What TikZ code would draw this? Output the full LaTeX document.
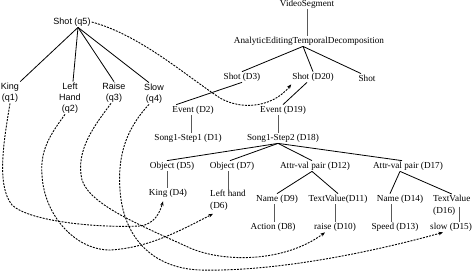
\documentclass[tikz,border=0pt]{standalone}
\usepackage{fontspec}
\setmainfont{Liberation Serif}
\setsansfont{Liberation Sans}
\usepackage{tikz}
\usetikzlibrary{arrows.meta}

\begin{document}
\begin{tikzpicture}[x=1pt, y=-1pt,
  qnode/.style={font=\sffamily\fontsize{9}{11}\selectfont, align=center, inner sep=1pt},
  dnode/.style={font=\fontsize{9.2}{12}\selectfont, inner sep=1pt},
  branch/.style={line width=0.8pt, black},
  vline/.style={line width=0.6pt, black!65},
  link/.style={line width=0.9pt, dash pattern=on 2pt off 1.2pt, -{Stealth[length=4.5pt,width=3.5pt]}}]
  \useasboundingbox (0,0) rectangle (474,271);
  % Query tree
  \node[qnode] (q5) at (72,22) {Shot (q5)};
  \node[qnode] (q1) at (10,92.5) {King\\(q1)};
  \node[qnode] (q2) at (70,98) {Left\\Hand\\(q2)};
  \node[qnode] (q3) at (114,92.5) {Raise\\(q3)};
  \node[qnode] (q4) at (154,93.5) {Slow\\(q4)};
  \draw[branch] ([xshift=6pt]q5.south) -- (q1.north east);
  \draw[branch] ([xshift=6pt]q5.south) -- ([xshift=3pt]q2.north);
  \draw[branch] ([xshift=6pt]q5.south) -- (q3.north);
  \draw[branch] ([xshift=6pt]q5.south) -- ([xshift=-5pt]q4.north);
  % Video description tree
  \node[dnode] (vs) at (307,4) {VideoSegment};
  \node[dnode] (aetd) at (309,41) {AnalyticEditingTemporalDecomposition};
  \node[dnode] (d3) at (242,77) {Shot (D3)};
  \node[dnode] (d20) at (313,77) {Shot (D20)};
  \node[dnode] (shot) at (367,78) {Shot};
  \node[dnode] (d2) at (193,110) {Event (D2)};
  \node[dnode] (d19) at (283,110) {Event (D19)};
  \node[dnode] (d1) at (188,138) {Song1-Step1 (D1)};
  \node[dnode] (d18) at (283,138) {Song1-Step2 (D18)};
  \node[dnode] (d5) at (172,166) {Object (D5)};
  \node[dnode] (d7) at (232,166) {Object (D7)};
  \node[dnode] (d12) at (315,166) {Attr-val pair (D12)};
  \node[dnode] (d17) at (408,166) {Attr-val pair (D17)};
  \node[dnode] (d4) at (168,193) {King (D4)};
  \node[dnode, align=left, anchor=north west] (d6) at (209,189) {Left hand\\(D6)};
  \node[dnode] (d9) at (277,199) {Name (D9)};
  \node[dnode] (d11) at (338,199) {TextValue(D11)};
  \node[dnode] (d14) at (400,199) {Name (D14)};
  \node[dnode, align=left, anchor=north west] (d16) at (432,194) {TextValue\\(D16)};
  \node[dnode] (d8) at (273,227) {Action (D8)};
  \node[dnode] (d10) at (335,227) {raise (D10)};
  \node[dnode] (d13) at (395,227) {Speed (D13)};
  \node[dnode] (d15) at (451,227) {slow (D15)};
  \draw[vline] (vs.south) -- (vs.south |- aetd.north);
  \draw[branch] ([xshift=-6pt]aetd.south) -- (d3.north);
  \draw[branch] ([xshift=-6pt]aetd.south) -- (d20.north);
  \draw[branch] ([xshift=-6pt]aetd.south) -- ([xshift=-6pt]shot.north);
  \draw[branch] (d3.south) -- ([xshift=5pt]d2.north west);
  \draw[branch] ([xshift=-6pt]d20.south) -- (d19.north);
  \draw[vline] ([xshift=-2pt]d2.south) -- ([xshift=-2pt]d2.south |- d1.north);
  \draw[vline] ([xshift=-5pt]d19.south) -- ([xshift=-5pt]d19.south |- d18.north);
  \draw[branch] ([xshift=-5pt]d18.south) -- ([xshift=-5pt]d5.north);
  \draw[branch] ([xshift=-5pt]d18.south) -- ([xshift=-2pt]d7.north);
  \draw[branch] ([xshift=-5pt]d18.south) -- ([xshift=-3pt]d12.north);
  \draw[branch] ([xshift=-5pt]d18.south) -- ([xshift=-6pt]d17.north);
  \draw[vline] ([xshift=-5pt]d5.south) -- ([xshift=-5pt]d5.south |- d4.north);
  \draw[vline] ([xshift=-4pt]d7.south) -- ([xshift=-4pt,yshift=-5pt]d7.south |- d6.north);
  \draw[branch] ([xshift=-3pt]d12.south) -- (d9.north);
  \draw[branch] ([xshift=-3pt]d12.south) -- (d11.north);
  \draw[branch] ([xshift=-8pt]d17.south) -- ([xshift=-10pt]d14.north);
  \draw[branch] ([xshift=-8pt]d17.south) -- (d16.north);
  \draw[vline] ([xshift=-3pt]d9.south) -- ([xshift=-3pt]d9.south |- d8.north);
  \draw[vline] ([xshift=-3pt]d11.south) -- ([xshift=-3pt]d11.south |- d10.north);
  \draw[vline] ([xshift=-9pt]d14.south) -- ([xshift=-9pt]d14.south |- d13.north);
  \draw[vline] ([xshift=-12pt,yshift=10pt]d16.south east) -- ([xshift=-12pt]d16.south east |- d15.north);
  % Matches between query and description
  \draw[link] (q1.south) .. controls (4,140) and (-4,185) .. (12,205)
    .. controls (30,222) and (100,228) .. (140,226)
    .. controls (155,224) and (160,212) .. ([xshift=-5pt,yshift=-3pt]d4.south);
  \draw[link] ([xshift=-5pt]q2.south) .. controls (50,135) and (40,150) .. (42,175)
    .. controls (44,215) and (75,250) .. (110,250)
    .. controls (150,248) and (185,228) .. ([xshift=4pt,yshift=-2pt]d6.south west);
  \draw[link] ([xshift=-3pt]q3.south) .. controls (95,125) and (75,150) .. (82,180)
    .. controls (90,205) and (140,225) .. (190,248)
    .. controls (225,263) and (285,262) .. ([xshift=-10pt]d10.south);
  \draw[link] ([xshift=-5pt]q4.south) .. controls (130,125) and (117,150) .. (120,190)
    .. controls (123,235) and (150,268) .. (200,270)
    .. controls (280,272) and (380,250) .. ([xshift=-8pt]d15.south);
  \draw[link] (q5.east) .. controls (140,35) and (185,75) .. (220,98)
    .. controls (245,112) and (275,105) .. ([yshift=-2pt]d20.south west);
\end{tikzpicture}
\end{document}
